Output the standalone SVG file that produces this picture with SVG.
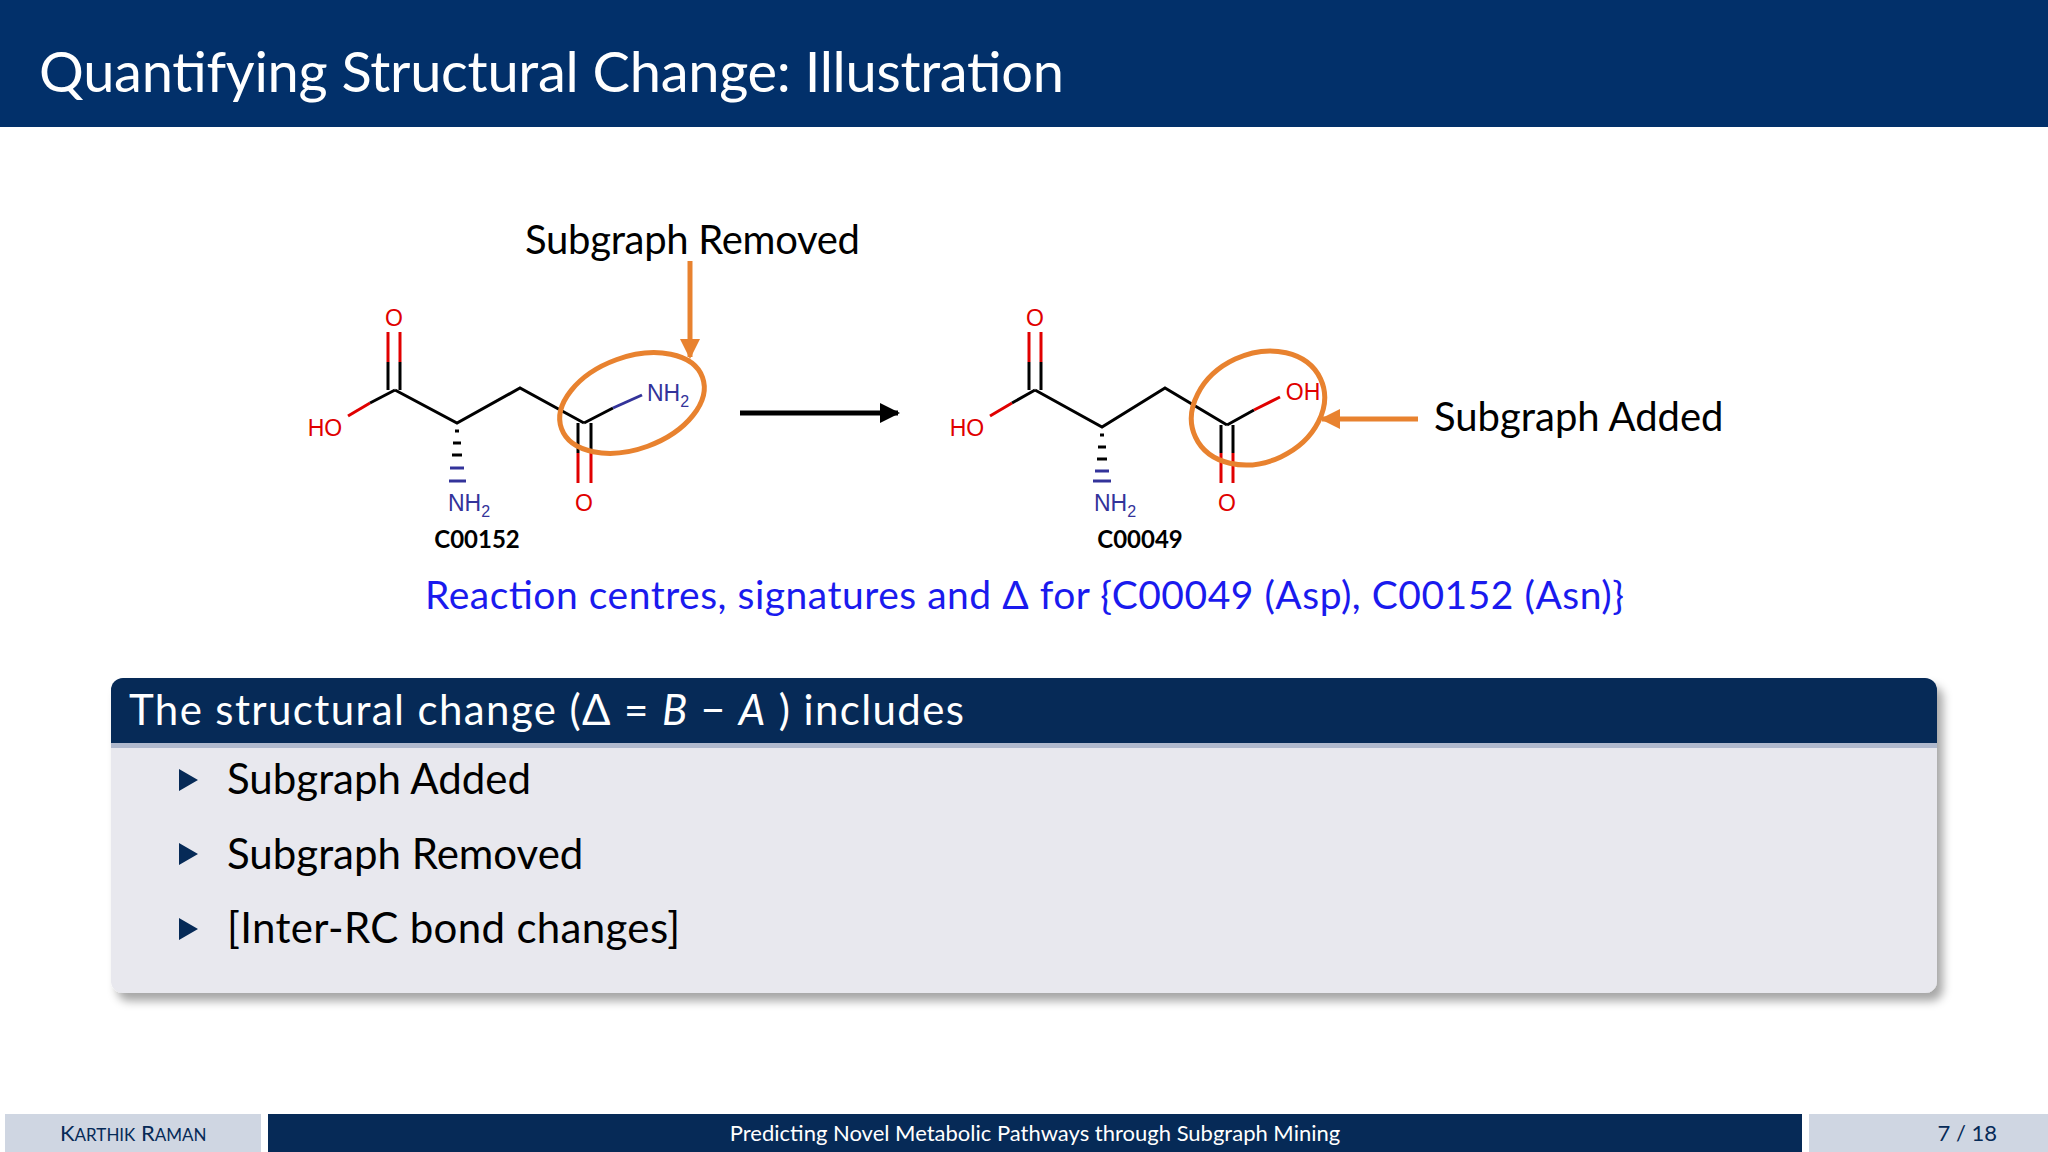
<svg xmlns="http://www.w3.org/2000/svg" width="2048" height="1152" viewBox="0 0 2048 1152">
<style>
text{font-family:Lato,"Open Sans",sans-serif}
.atom{font-family:"Liberation Sans",Arial,sans-serif;font-size:23px}
.red{fill:#e00000}.blue{fill:#33339a}
.b{stroke:#000;stroke-width:3;fill:none}
.r{stroke:#e00000;stroke-width:3;fill:none}
.n{stroke:#33339a;stroke-width:3;fill:none}
.ell{fill:none;stroke:#e8822f;stroke-width:5}
.lbl{font-size:40px;fill:#000}
.item{font-size:42px;fill:#000}
.foot{font-size:22px;fill:#fff}
</style>
<defs>
<marker id="ah" viewBox="0 0 10 10" refX="9" refY="5" markerWidth="4" markerHeight="4" orient="auto"><path d="M0,0L10,5L0,10z" fill="#000"/></marker>
<marker id="oh" viewBox="0 0 10 10" refX="9" refY="5" markerWidth="4" markerHeight="4" orient="auto"><path d="M0,0L10,5L0,10z" fill="#e8822f"/></marker>
<filter id="sh" x="-5%" y="-5%" width="110%" height="120%"><feDropShadow dx="6" dy="8" stdDeviation="5" flood-color="#000" flood-opacity="0.35"/></filter>
</defs>
<rect width="2048" height="1152" fill="#fff"/>
<g id="header"><rect width="2048" height="127" fill="#02306a"/>
<text x="39" y="92" font-size="56" fill="#fff" textLength="1025">Quantifying Structural Change: Illustration</text></g>

<g id="mol1">
<line class="r" x1="348" y1="416" x2="370" y2="403"/><line class="b" x1="370" y1="403" x2="395" y2="390"/>
<line class="r" x1="388" y1="332" x2="388" y2="362"/><line class="b" x1="388" y1="362" x2="388" y2="390"/>
<line class="r" x1="400" y1="332" x2="400" y2="362"/><line class="b" x1="400" y1="362" x2="400" y2="390"/>
<polyline class="b" points="395,390 457,423 520,388 584,423"/>
<line class="b" x1="584" y1="423" x2="613" y2="408"/><line class="n" x1="613" y1="408" x2="642" y2="395"/>
<line class="b" x1="578" y1="423" x2="578" y2="453"/><line class="r" x1="578" y1="453" x2="578" y2="483"/>
<line class="b" x1="591" y1="423" x2="591" y2="453"/><line class="r" x1="591" y1="453" x2="591" y2="483"/>
<g stroke-width="3"><line stroke="#000" x1="455" y1="431" x2="459" y2="431"/><line stroke="#000" x1="453" y1="443" x2="461" y2="443"/><line stroke="#000" x1="452" y1="455" x2="462" y2="455"/><line stroke="#33339a" x1="450" y1="468" x2="464" y2="468"/><line stroke="#33339a" x1="449" y1="481" x2="466" y2="481"/></g>
<text class="atom red" x="325" y="436" text-anchor="middle">HO</text>
<text class="atom red" x="394" y="326" text-anchor="middle">O</text>
<text class="atom red" x="584" y="511" text-anchor="middle">O</text>
<text class="atom blue" x="647" y="401">NH<tspan font-size="16" dy="6">2</tspan></text>
<text class="atom blue" x="448" y="511">NH<tspan font-size="16" dy="6">2</tspan></text>
<text x="477" y="548" font-size="24" font-weight="bold" text-anchor="middle" fill="#000">C00152</text>
<ellipse class="ell" cx="632" cy="403" rx="75" ry="46" transform="rotate(-20 632 403)"/>
</g>

<g id="mol2">
<line class="r" x1="990" y1="416" x2="1012" y2="403"/><line class="b" x1="1012" y1="403" x2="1035" y2="390"/>
<line class="r" x1="1029" y1="332" x2="1029" y2="362"/><line class="b" x1="1029" y1="362" x2="1029" y2="390"/>
<line class="r" x1="1041" y1="332" x2="1041" y2="362"/><line class="b" x1="1041" y1="362" x2="1041" y2="390"/>
<polyline class="b" points="1035,390 1102,427 1165,388 1227,425"/>
<line class="b" x1="1227" y1="425" x2="1254" y2="410"/><line class="r" x1="1254" y1="410" x2="1280" y2="397"/>
<line class="b" x1="1221" y1="425" x2="1221" y2="453"/><line class="r" x1="1221" y1="453" x2="1221" y2="483"/>
<line class="b" x1="1233" y1="425" x2="1233" y2="453"/><line class="r" x1="1233" y1="453" x2="1233" y2="483"/>
<g stroke-width="3"><line stroke="#000" x1="1100" y1="435" x2="1104" y2="435"/><line stroke="#000" x1="1098" y1="447" x2="1106" y2="447"/><line stroke="#000" x1="1097" y1="459" x2="1107" y2="459"/><line stroke="#33339a" x1="1095" y1="471" x2="1109" y2="471"/><line stroke="#33339a" x1="1093" y1="481" x2="1111" y2="481"/></g>
<text class="atom red" x="967" y="436" text-anchor="middle">HO</text>
<text class="atom red" x="1035" y="326" text-anchor="middle">O</text>
<text class="atom red" x="1227" y="511" text-anchor="middle">O</text>
<text class="atom red" x="1303" y="400" text-anchor="middle">OH</text>
<text class="atom blue" x="1094" y="511">NH<tspan font-size="16" dy="6">2</tspan></text>
<text x="1140" y="548" font-size="24" font-weight="bold" text-anchor="middle" fill="#000">C00049</text>
<ellipse class="ell" cx="1258" cy="408" rx="69" ry="54" transform="rotate(-25 1258 408)"/>
</g>

<g id="connectors">
<line x1="740" y1="413" x2="898" y2="413" stroke="#000" stroke-width="5" marker-end="url(#ah)"/>
<line x1="690" y1="261" x2="690" y2="357" stroke="#e8822f" stroke-width="5" marker-end="url(#oh)"/>
<line x1="1418" y1="419" x2="1322" y2="419" stroke="#e8822f" stroke-width="5" marker-end="url(#oh)"/>
</g>

<g id="labels">
<text class="lbl" x="525" y="254" textLength="335">Subgraph Removed</text>
<text class="lbl" x="1434" y="431">Subgraph Added</text>
<text x="425" y="609" font-size="39" fill="#1a1aee" textLength="1199">Reaction centres, signatures and Δ for {C00049 (Asp), C00152 (Asn)}</text>
</g>

<g id="block">
<g filter="url(#sh)"><rect x="111" y="678" width="1826" height="315" rx="12" fill="#e8e8ee"/></g>
<path d="M111,743V690a12,12 0 0 1 12,-12H1925a12,12 0 0 1 12,12V743Z" fill="#062a57"/>
<rect x="111" y="743" width="1826" height="5" fill="#8a9ab8" opacity="0.6"/>
<text x="129" y="725" font-size="42" fill="#fff" textLength="835">The structural change (Δ = <tspan font-style="italic">B</tspan> − <tspan font-style="italic">A</tspan> ) includes</text>
<path d="M179,769L198,780L179,791Z M179,843L198,854L179,865Z M179,918L198,929L179,940Z" fill="#062a57"/>
<text class="item" x="227" y="794">Subgraph Added</text>
<text class="item" x="227" y="869">Subgraph Removed</text>
<text class="item" x="227" y="943" textLength="453">[Inter-RC bond changes]</text>
</g>

<g id="footer">
<rect x="5" y="1114" width="256" height="38" fill="#cfd6e2"/>
<rect x="268" y="1114" width="1534" height="38" fill="#062a57"/>
<rect x="1809" y="1114" width="239" height="38" fill="#cfd6e2"/>
<text x="60" y="1141" font-size="22" fill="#062a57">K<tspan font-size="17">ARTHIK</tspan> R<tspan font-size="17">AMAN</tspan></text>
<text class="foot" x="1035" y="1141" text-anchor="middle">Predicting Novel Metabolic Pathways through Subgraph Mining</text>
<text x="1997" y="1141" font-size="22" fill="#062a57" text-anchor="end">7 / 18</text>
</g>
</svg>
